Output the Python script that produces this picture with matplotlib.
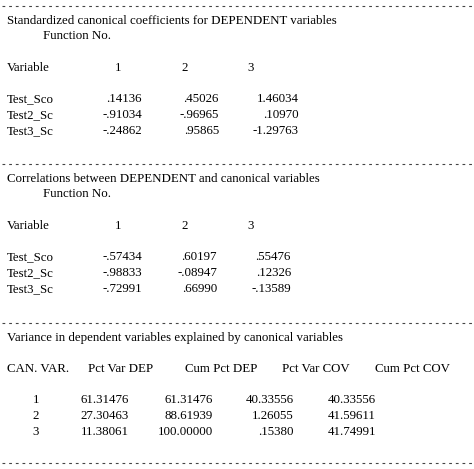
import matplotlib.pyplot as plt
from matplotlib.lines import Line2D

# data
variables = ['Test_Sco', 'Test2_Sc', 'Test3_Sc']
coef = [['.14136', '.45026', '1.46034'],
        ['-.91034', '-.96965', '.10970'],
        ['-.24862', '.95865', '-1.29763']]
corr = [['-.57434', '.60197', '.55476'],
        ['-.98833', '-.08947', '.12326'],
        ['-.72991', '.66990', '-.13589']]
can_var = ['1', '2', '3']
var_headers = ['Pct Var DEP', 'Cum Pct DEP', 'Pct Var COV', 'Cum Pct COV']
var_table = [['61.31476', '61.31476', '40.33556', '40.33556'],
             ['27.30463', '88.61939', '1.26055', '41.59611'],
             ['11.38061', '100.00000', '.15380', '41.74991']]

plt.rcParams['font.family'] = ['Liberation Serif', 'DejaVu Serif']
fs = 9.3
fig = plt.figure(figsize=(4.74, 4.69), dpi=100)
ax = fig.add_axes([0, 0, 1, 1])
ax.set_xlim(0, 474)
ax.set_ylim(469, 0)
ax.axis('off')

def txt(x, y, s, ha='left'):
    ax.text(x, y, s, ha=ha, va='center', fontsize=fs, color='black')

def dashes(y):
    ax.add_line(Line2D([2, 472], [y, y], color='#444444', lw=0.8,
                       linestyle=(0, (2.5, 3.5))))

def section(y0, title, vals, rights):
    dashes(y0)
    txt(7, y0 + 15, title)
    txt(43, y0 + 30, 'Function No.')
    txt(7, y0 + 62, 'Variable')
    for j, cx in enumerate([118, 185, 251]):
        txt(cx, y0 + 62, str(j + 1), ha='center')
    for i, v in enumerate(variables):
        y = y0 + 93 + 16 * i
        txt(7, y, v)
        for j, rx in enumerate(rights):
            txt(rx, y, vals[i][j], ha='right')

section(6, 'Standardized canonical coefficients for DEPENDENT variables',
        coef, [142, 219, 299])
section(164, 'Correlations between DEPENDENT and canonical variables',
        corr, [142, 217, 291])

dashes(323)
txt(7, 338, 'Variance in dependent variables explained by canonical variables')
txt(7, 369, 'CAN. VAR.')
for h, x in zip(var_headers, [88, 185, 282, 375]):
    txt(x, 369, h)
for i, c in enumerate(can_var):
    y = 400 + 16 * i
    txt(36, y, c, ha='center')
    for j, rx in enumerate([129, 213, 294, 376]):
        txt(rx, y, var_table[i][j], ha='right')
dashes(463)

fig.savefig('out.png', dpi=100)
